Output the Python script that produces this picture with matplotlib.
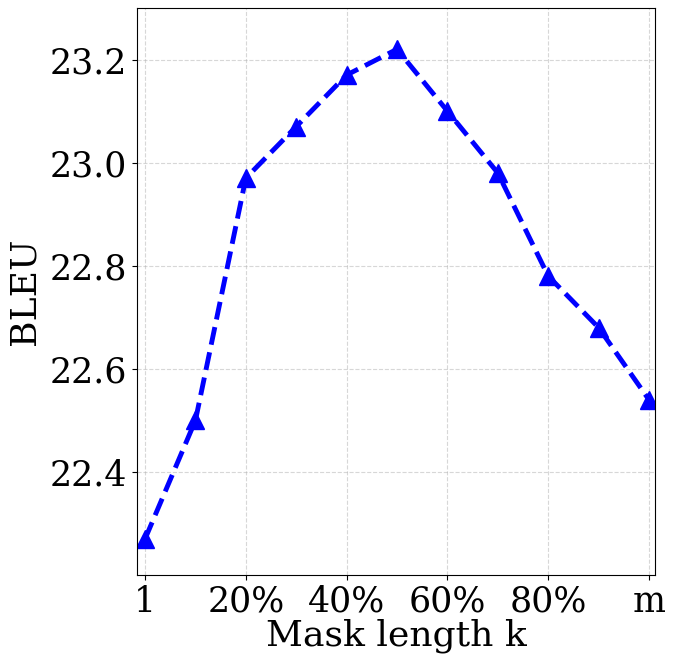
import matplotlib.pyplot as plt

x = list(range(11))
bleu = [22.27, 22.50, 22.97, 23.07, 23.17, 23.22, 23.10, 22.98, 22.78, 22.68, 22.54]
tick_pos = [0, 2, 4, 6, 8, 10]
tick_labels = ['1', '20%', '40%', '60%', '80%', 'm']

plt.rcParams['font.family'] = 'DejaVu Serif'
fig = plt.figure(figsize=(6.77, 6.72), dpi=100)
ax = fig.add_axes([137 / 677, 1 - 575 / 672, 518 / 677, 567 / 672])
ax.plot(x, bleu, '--', color='blue', linewidth=3.5, marker='^', markersize=13)
ax.set_xticks(tick_pos)
ax.set_xticklabels(tick_labels)
ax.set_yticks([22.4, 22.6, 22.8, 23.0, 23.2])
ax.set_xlim(-0.16, 10.12)
ax.set_ylim(22.2, 23.3)
ax.tick_params(labelsize=25)
ax.set_xlabel('Mask length k', fontsize=26, labelpad=0)
ax.set_ylabel('BLEU', fontsize=26, labelpad=6)
ax.grid(True, linestyle='--', alpha=0.5)
fig.savefig('out.png', dpi=100)
